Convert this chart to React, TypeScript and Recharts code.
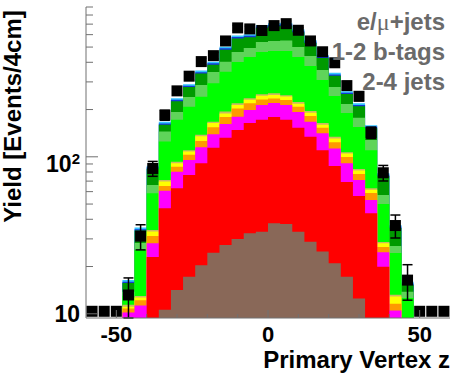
import React from 'react';
import { ComposedChart, Area, Scatter, ErrorBar, XAxis, YAxis } from 'recharts';

// low edge of each 4cm bin that has a prediction
const binLow = [-48, -44, -40, -36, -32, -28, -24, -20, -16, -12, -8, -4, 0, 4, 8, 12, 16, 20, 24, 28, 32, 36, 40, 44];
const binHigh = 48;

// top of each layer of the stacked prediction (cumulative), one value per bin
const topCyan = [16.4, 35.4, 87.7, 167, 236, 290, 354, 403, 503, 592, 603, 691, 708, 715, 649, 554, 445, 343, 262, 219, 159, 78.8, 36.8, 16.0];
const topBlue = [16.0, 34.6, 85.8, 163, 231, 284, 346, 394, 492, 579, 590, 676, 692, 699, 635, 542, 435, 335, 256, 214, 156, 77.1, 36.0, 15.6];
const topDarkGreen = [15.7, 33.9, 83.9, 160, 226, 278, 339, 386, 481, 567, 577, 661, 678, 684, 621, 530, 426, 328, 251, 210, 152, 75.4, 35.2, 15.3];
const topPaleGreen = [13.8, 28.2, 66.1, 145, 193, 240, 287, 347, 403, 465, 493, 538, 546, 550, 500, 438, 357, 278, 217, 177, 128, 57.1, 27.0, 13.8];
const topGreen = [13.0, 25.5, 58.5, 125, 172, 208, 241, 294, 348, 402, 432, 465, 472, 472, 432, 379, 308, 244, 190, 155, 110, 50.0, 24.4, 12.6];
const topTan = [11.4, 13.0, 34.2, 71.1, 93.0, 110, 138, 167, 194, 219, 236, 250, 254, 247, 223, 196, 164, 134, 107, 83.6, 63.0, 28.7, 13.2, 8.0];
const topYellow = [11.1, 12.7, 33.4, 69.5, 91.0, 108, 135, 164, 189, 214, 231, 245, 248, 242, 218, 191, 160, 131, 105, 81.8, 61.6, 28.1, 12.9, 7.8];
const topOrange = [10.8, 12.2, 31.3, 65.2, 86.5, 103, 126, 154, 179, 203, 219, 232, 235, 230, 208, 182, 153, 124, 99.7, 77.7, 58.8, 26.6, 11.6, 7.5];
const topMagenta = [10.2, 11.3, 28.1, 60.8, 80.4, 95.4, 115, 139, 162, 180, 199, 214, 220, 214, 193, 167, 141, 113, 90.9, 71.1, 53.0, 24.7, 10.5, 7.0];
const topRed = [6.0, 8.0, 23.0, 47.0, 63.0, 76.6, 90.9, 114, 132, 148, 164, 172, 179, 172, 153, 134, 110, 87.4, 69.1, 56.3, 43.7, 19.9, 8.0, 6.0];
const topBrown = [2, 3, 5, 10.6, 14.2, 17.2, 20.4, 24.5, 27.4, 29.9, 32.6, 33.3, 37.7, 37.3, 33.3, 28.8, 24.9, 21.0, 17.2, 12.5, 5, 4, 3, 2];

// data points (bin centres), empty bins sit on the floor of the plot
const pointZ = [-58, -54, -50, -46, -42, -38, -34, -30, -26, -22, -18, -14, -10, -6, -2, 2, 6, 10, 14, 18, 22, 26, 30, 34, 38, 42, 46, 50, 54, 58];
const events = [0, 0, 0, 12, 29, 80, 178, 256, 319, 397, 434, 541, 658, 648, 633, 681, 701, 635, 541, 460, 390, 277, 236, 137, 75, 34, 15, 0, 0, 0];
const eventErr = [0, 0, 0, 3.5, 5.4, 8.9, 13.3, 16.0, 17.9, 19.9, 20.8, 23.3, 25.7, 25.5, 25.2, 26.1, 26.5, 25.2, 23.3, 21.4, 19.7, 16.6, 15.4, 11.7, 8.7, 5.8, 3.9, 0, 0, 0];

const xTicks = [-50, -40, -30, -20, -10, 0, 10, 20, 30, 40, 50];
const yTicks = [10, 20, 30, 40, 50, 60, 70, 80, 90, 100, 200, 300, 400, 500, 600, 700, 800, 900];
const Y_MIN = 9.4;
const Y_MAX = 900;

const layers = [
  { key: 'cyan', values: topCyan, color: '#33c4ff' },
  { key: 'blue', values: topBlue, color: '#1438d8' },
  { key: 'darkGreen', values: topDarkGreen, color: '#009a00' },
  { key: 'paleGreen', values: topPaleGreen, color: '#5fd45a' },
  { key: 'green', values: topGreen, color: '#00ff00' },
  { key: 'tan', values: topTan, color: '#cdb862' },
  { key: 'yellow', values: topYellow, color: '#ffff00' },
  { key: 'orange', values: topOrange, color: '#ff9900' },
  { key: 'magenta', values: topMagenta, color: '#ff00ff' },
  { key: 'red', values: topRed, color: '#ff0000' },
  { key: 'brown', values: topBrown, color: '#896858' },
];

// step rows: one per low edge, plus the closing high edge
const rows = [...binLow, binHigh].map((x, i) => {
  const row: any = { x };
  const j = Math.min(i, binLow.length - 1);
  layers.forEach((l) => { row[l.key] = l.values[j]; });
  return row;
});

const points = pointZ.map((x, i) => ({ x, y: Math.max(events[i], Y_MIN), err: eventErr[i] }));

const FONT = '"Liberation Sans", Arial, Helvetica, sans-serif';
const AXIS = '#707070';

const XTick = (props: any) => {
  const { x, y, payload } = props;
  const v = payload.value;
  const major = v % 50 === 0;
  return (
    <g>
      <line x1={x} x2={x} y1={y} y2={y - (major ? 8 : 4)} stroke={AXIS} strokeWidth={1} />
      {major && (
        <text x={x} y={y + 23.7} textAnchor="middle" fontFamily={FONT} fontWeight="bold" fontSize={22} fill="#000">
          {v}
        </text>
      )}
    </g>
  );
};

const YTick = (props: any) => {
  const { x, y, payload } = props;
  const v = payload.value;
  const major = v === 10 || v === 100;
  return (
    <g>
      <line x1={x} x2={x + (major ? 12 : 7)} y1={y} y2={y} stroke={AXIS} strokeWidth={1} />
      {v === 10 && (
        <text x={x - 6} y={y + 8} textAnchor="end" fontFamily={FONT} fontWeight="bold" fontSize={23} fill="#000">
          10
        </text>
      )}
      {v === 100 && (
        <text x={x - 6} y={y + 15.5} textAnchor="end" fontFamily={FONT} fontWeight="bold" fontSize={23} fill="#000">
          10<tspan dy={-8.5} fontSize={15}>2</tspan>
        </text>
      )}
    </g>
  );
};

const Square = (props: any) => {
  const { cx, cy } = props;
  return <rect x={cx - 5.5} y={cy - 5.5} width={11} height={11} fill="#000" />;
};

export default function App() {
  return (
    <div style={{ position: 'absolute', left: 0, top: 0, width: 474, height: 379, background: '#fff' }}>
      <ComposedChart width={474} height={379} data={rows} margin={{ top: 7, right: 24, bottom: 0, left: 0 }}>
        <XAxis
          dataKey="x"
          type="number"
          domain={[-60, 60]}
          ticks={xTicks}
          interval={0}
          tickLine={false}
          tickSize={0}
          tickMargin={0}
          tick={XTick}
          axisLine={{ stroke: AXIS }}
          height={61}
        />
        <YAxis
          yAxisId="hist"
          type="number"
          scale="log"
          domain={[Y_MIN, Y_MAX]}
          allowDataOverflow
          ticks={yTicks}
          interval={0}
          tickLine={false}
          tickSize={0}
          tickMargin={0}
          tick={YTick}
          axisLine={{ stroke: AXIS }}
          width={86}
        />
        <YAxis yAxisId="pts" type="number" scale="log" domain={[Y_MIN, Y_MAX]} hide />
        {layers.map((l) => (
          <Area
            key={l.key}
            yAxisId="hist"
            type="stepAfter"
            dataKey={l.key}
            fill={l.color}
            fillOpacity={1}
            stroke="none"
            dot={false}
            activeDot={false}
            isAnimationActive={false}
          />
        ))}
        <Scatter yAxisId="pts" data={points} dataKey="y" shape={Square} isAnimationActive={false}>
          <ErrorBar dataKey="err" direction="y" width={5} stroke="#000" strokeWidth={1.5} />
        </Scatter>
      </ComposedChart>
      <svg width={474} height={379} style={{ position: 'absolute', left: 0, top: 0, pointerEvents: 'none' }}>
        <text transform="translate(21,116.5) rotate(-90)" textAnchor="middle" fontFamily={FONT} fontWeight="bold" fontSize={24} fill="#000">
          Yield [Events/4cm]
        </text>
        <text x={450} y={368} textAnchor="end" fontFamily={FONT} fontWeight="bold" fontSize={24} fill="#000">
          Primary Vertex z
        </text>
        <g fontFamily={FONT} fontWeight="bold" fontSize={24} fill="#6a6a6a" textAnchor="end">
          <text x={445} y={30}>
            e/<tspan fontFamily='"Liberation Serif", "DejaVu Serif", serif' fontWeight="normal">μ</tspan>+jets
          </text>
          <text x={445} y={60}>1-2 b-tags</text>
          <text x={445} y={90}>2-4 jets</text>
        </g>
      </svg>
    </div>
  );
}
